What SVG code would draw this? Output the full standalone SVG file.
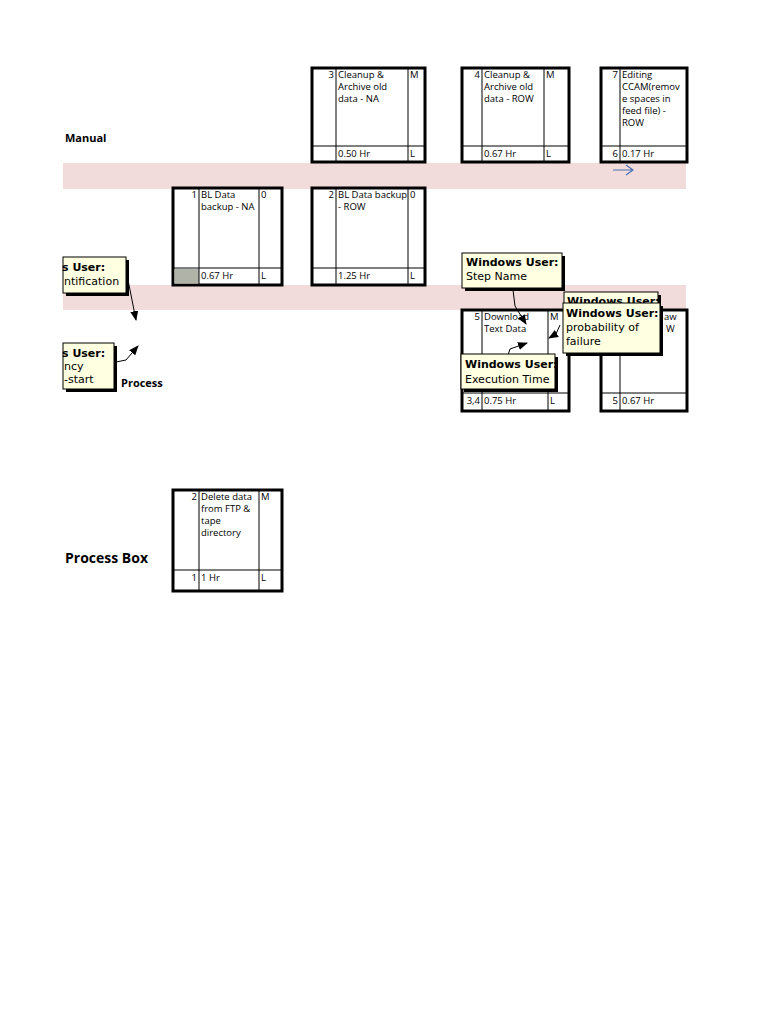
<svg xmlns="http://www.w3.org/2000/svg" width="768" height="1024" viewBox="0 0 768 1024">
<style>
.b{fill:#fff;stroke:#000;stroke-width:3}
.l{stroke:#000;stroke-width:1;fill:none}
.t{font-family:"Open Sans","Liberation Sans",sans-serif;font-size:9.5px;fill:#000}
.h{font-family:"Open Sans","Liberation Sans",sans-serif;font-size:11px;font-weight:bold;fill:#000}
.c{fill:#ffffe1;stroke:#000;stroke-width:1}
.s{fill:#000}
.ct{font-family:"DejaVu Sans","Liberation Sans",sans-serif;font-size:11px;fill:#000}
.cb{font-family:"DejaVu Sans","Liberation Sans",sans-serif;font-size:11px;font-weight:bold;fill:#000}
</style>
<defs>
<marker id="a" markerWidth="10" markerHeight="8" refX="9" refY="4" orient="auto" markerUnits="userSpaceOnUse"><path d="M0,0L10,4L0,8z" fill="#000"/></marker>
</defs>
<rect width="768" height="1024" fill="#fff"/>
<rect x="63" y="163" width="623" height="26" fill="#f2dcdb"/>
<rect x="63" y="285" width="623" height="25" fill="#f2dcdb"/>
<text class="h" x="65" y="142">Manual</text>
<text class="h" x="65" y="563" style="font-size:14px">Process Box</text>
<text class="h" x="121" y="387">Process</text>

<g id="box3"><rect class="b" x="312" y="68" width="113" height="94"/><path class="l" d="M336,68V162M408,68V162M312,146H425"/>
<text class="t" x="334" y="78" text-anchor="end">3</text><text class="t" x="338" y="78">Cleanup &amp;</text><text class="t" x="338" y="90">Archive old</text><text class="t" x="338" y="102">data - NA</text><text class="t" x="410" y="78">M</text><text class="t" x="338" y="157">0.50 Hr</text><text class="t" x="410" y="157">L</text></g>
<g id="box4"><rect class="b" x="462" y="68" width="107" height="94"/><path class="l" d="M482,68V162M544,68V162M462,146H569"/>
<text class="t" x="480" y="78" text-anchor="end">4</text><text class="t" x="484" y="78">Cleanup &amp;</text><text class="t" x="484" y="90">Archive old</text><text class="t" x="484" y="102">data - ROW</text><text class="t" x="546" y="78">M</text><text class="t" x="484" y="157">0.67 Hr</text><text class="t" x="546" y="157">L</text></g>
<g id="box7"><rect class="b" x="601" y="68" width="86" height="94"/><path class="l" d="M620,68V162M601,146H687"/>
<text class="t" x="618" y="78" text-anchor="end">7</text><text class="t" x="622" y="78">Editing</text><text class="t" x="622" y="90">CCAM(remov</text><text class="t" x="622" y="102">e spaces in</text><text class="t" x="622" y="114">feed file) -</text><text class="t" x="622" y="126">ROW</text><text class="t" x="618" y="157" text-anchor="end">6</text><text class="t" x="622" y="157">0.17 Hr</text></g>
<g id="box1"><rect class="b" x="173" y="188" width="109" height="97"/><rect x="174.5" y="269" width="24.5" height="14.5" fill="#b0b4a8"/><path class="l" d="M199,188V285M259,188V285M173,268H282"/>
<text class="t" x="197" y="198" text-anchor="end">1</text><text class="t" x="201" y="198">BL Data</text><text class="t" x="201" y="210">backup - NA</text><text class="t" x="261" y="198">0</text><text class="t" x="201" y="279">0.67 Hr</text><text class="t" x="261" y="279">L</text></g>
<g id="box2"><rect class="b" x="312" y="188" width="113" height="97"/><path class="l" d="M336,188V285M408,188V285M312,268H425"/>
<text class="t" x="334" y="198" text-anchor="end">2</text><text class="t" x="338" y="198">BL Data backup</text><text class="t" x="338" y="210">- ROW</text><text class="t" x="410" y="198">0</text><text class="t" x="338" y="279">1.25 Hr</text><text class="t" x="410" y="279">L</text></g>
<g id="box5"><rect class="b" x="462" y="310" width="107" height="101"/><path class="l" d="M482,310V411M548,310V411M462,393H569"/>
<text class="t" x="480" y="320" text-anchor="end">5</text><text class="t" x="484" y="320">Download</text><text class="t" x="484" y="332">Text Data</text><text class="t" x="550" y="320">M</text><text class="t" x="480" y="404" text-anchor="end">3,4</text><text class="t" x="484" y="404">0.75 Hr</text><text class="t" x="550" y="404">L</text></g>
<g id="box6"><rect class="b" x="601" y="310" width="86" height="101"/><path class="l" d="M620,310V411M601,393H687"/>
<text class="t" x="664" y="320">aw</text><text class="t" x="666" y="332">W</text><text class="t" x="618" y="404" text-anchor="end">5</text><text class="t" x="622" y="404">0.67 Hr</text></g>
<g id="boxP"><rect class="b" x="173" y="490" width="109" height="101"/><path class="l" d="M199,490V591M259,490V591M173,570H282"/>
<text class="t" x="197" y="500" text-anchor="end">2</text><text class="t" x="201" y="500">Delete data</text><text class="t" x="201" y="512">from FTP &amp;</text><text class="t" x="201" y="524">tape</text><text class="t" x="201" y="536">directory</text><text class="t" x="261" y="500">M</text><text class="t" x="197" y="581" text-anchor="end">1</text><text class="t" x="201" y="581">1 Hr</text><text class="t" x="261" y="581">L</text></g>

<g id="connectors">
<path d="M613,170L632,170M626,165L633,170L626,175" fill="none" stroke="#4a6fb3" stroke-width="1.2"/>
<path class="l" d="M125,274L128,280L136,320" marker-end="url(#a)" stroke="#555"/>
<path class="l" d="M116,362L126,360L138,346" marker-end="url(#a)" stroke="#555"/>
<path class="l" d="M513,290L515,306L526,324" marker-end="url(#a)" stroke="#555"/>
<path class="l" d="M560,325L556,334L549,338" marker-end="url(#a)" stroke="#555"/>
<path class="l" d="M508,355L510,349L527,343" marker-end="url(#a)" stroke="#555"/>
</g>

<g id="note1"><rect class="s" x="66" y="260" width="63" height="36"/><rect class="c" x="63" y="257" width="63" height="36"/><text class="cb" x="62" y="271">s User:</text><text class="ct" x="64" y="285">ntification</text></g>
<g id="note2"><rect class="s" x="66" y="346" width="51" height="46"/><rect class="c" x="63" y="343" width="51" height="46"/><text class="cb" x="62" y="357">s User:</text><text class="ct" x="64" y="370">ncy</text><text class="ct" x="64" y="383">-start</text></g>
<g id="note3"><rect class="s" x="465" y="256" width="100" height="35"/><rect class="c" x="462" y="253" width="100" height="35"/><text class="cb" x="466" y="266">Windows User:</text><text class="ct" x="466" y="280">Step Name</text></g>
<g id="note4"><rect class="s" x="567" y="295" width="94" height="16"/><rect class="c" x="564" y="292" width="94" height="16"/><text class="cb" x="567" y="305">Windows User:</text></g>
<g id="note5"><rect class="s" x="566" y="306" width="97" height="50"/><rect class="c" x="563" y="303" width="97" height="50"/><text class="cb" x="566" y="317">Windows User:</text><text class="ct" x="566" y="331">probability of</text><text class="ct" x="566" y="345">failure</text></g>
<g id="note6"><rect class="s" x="464" y="357" width="94" height="35"/><rect class="c" x="461" y="354" width="94" height="35"/><text class="cb" x="465" y="368">Windows User:</text><text class="ct" x="465" y="383">Execution Time</text></g>
</svg>
